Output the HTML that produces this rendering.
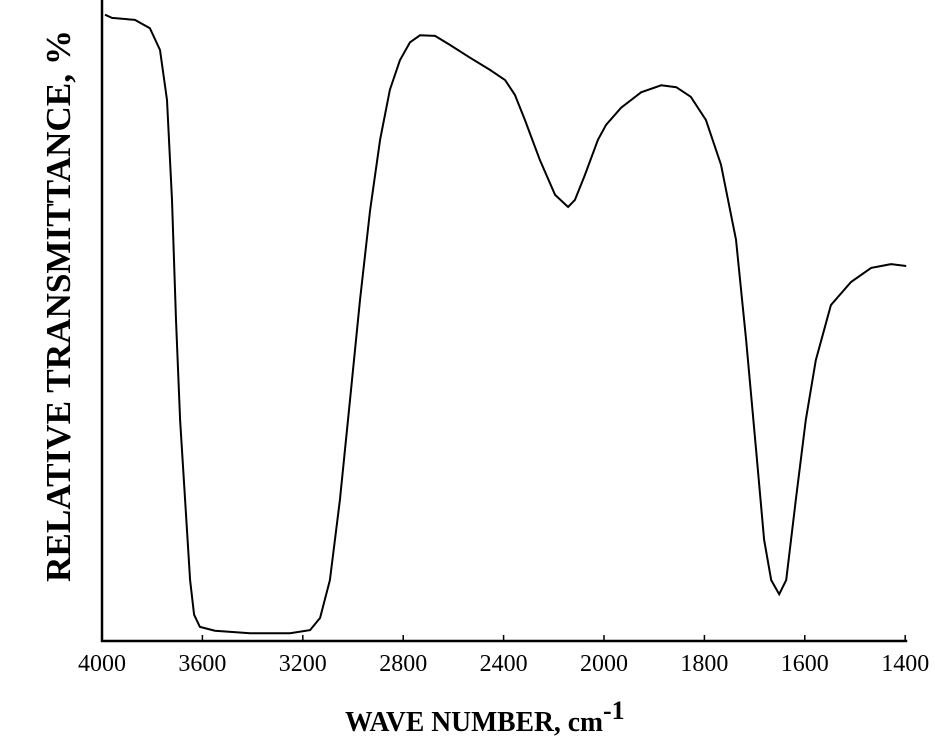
<!DOCTYPE html>
<html><head><meta charset="utf-8"><style>
body{margin:0;background:#fff}
svg{display:block;font-family:"Liberation Serif",serif}
</style></head><body>
<svg id="chart" width="935" height="749" viewBox="0 0 935 749">
<g id="axes"></g>
<path id="curve" fill="none" stroke="#000" stroke-width="2"/>
<text transform="translate(70,306) rotate(-90)" text-anchor="middle" font-size="35" font-weight="bold" textLength="552" lengthAdjust="spacingAndGlyphs">RELATIVE TRANSMITTANCE, %</text>
<text x="345" y="731" font-size="29" font-weight="bold"><tspan textLength="258" lengthAdjust="spacingAndGlyphs">WAVE NUMBER, cm</tspan><tspan dy="-12" font-size="26">-1</tspan></text>
</svg>
<script>
const tickLabels=[4000,3600,3200,2800,2400,2000,1800,1600,1400];
const wavenumbers=[3988,3960,3869,3809,3769,3741,3721,3705,3689,3669,3649,3633,3610,3550,3410,3251,3171,3131,3092,3052,3012,2972,2932,2892,2853,2813,2773,2733,2673,2614,2534,2454,2394,2355,2315,2255,2195,2143,2116,2076,2024,1996,1966,1926,1886,1856,1827,1797,1767,1737,1717,1697,1681,1667,1651,1637,1618,1598,1578,1548,1508,1468,1428,1398];
const transmittance=[97.7,97.2,96.9,95.6,92.2,84.4,68.8,50.1,34.5,22.0,9.5,4.1,2.2,1.6,1.2,1.2,1.7,3.6,9.5,22.0,37.6,53.2,67.2,78.2,86.0,90.6,93.4,94.5,94.4,93.0,91.0,89.1,87.5,85.2,81.3,75.0,69.6,67.7,68.8,72.7,78.2,80.5,83.2,85.6,86.7,86.4,84.9,81.3,74.3,62.6,47.0,29.8,15.8,9.5,7.3,9.5,22.0,34.5,43.8,52.4,56.0,58.2,58.8,58.5];
const X0=102, STEP=100.4, Y0=641, YTOP=0;
function xScale(wn){return wn>=2000? X0+(4000-wn)/400*STEP : X0+5*STEP+(2000-wn)/200*STEP;}
function yScale(t){return Y0-(t/100)*(Y0-YTOP);}
const NS="http://www.w3.org/2000/svg";
const axes=document.getElementById('axes');
function mk(tag,attrs){const e=document.createElementNS(NS,tag);for(const k in attrs)e.setAttribute(k,attrs[k]);axes.appendChild(e);return e;}
let l=mk('line',{x1:X0,y1:0,x2:X0,y2:Y0+1,stroke:'#000','stroke-width':2.5});


l=mk('line',{x1:X0-1,y1:Y0,x2:xScale(1400)+2,y2:Y0,stroke:'#000','stroke-width':2.5});


tickLabels.forEach(v=>{
  const x=xScale(v);
  const t=mk('line',{x1:x,y1:Y0-6,x2:x,y2:Y0,stroke:'#000','stroke-width':1.5});
  
  
  const tx=mk('text',{x:x,y:Y0+30,'text-anchor':'middle','font-size':24});
  tx.textContent=v;
  
  
});
let d='';
wavenumbers.forEach((w,i)=>{d+=(i?'L':'M')+xScale(w).toFixed(1)+','+yScale(transmittance[i]).toFixed(1);});
document.getElementById('curve').setAttribute('d',d);
</script>
</body></html>
